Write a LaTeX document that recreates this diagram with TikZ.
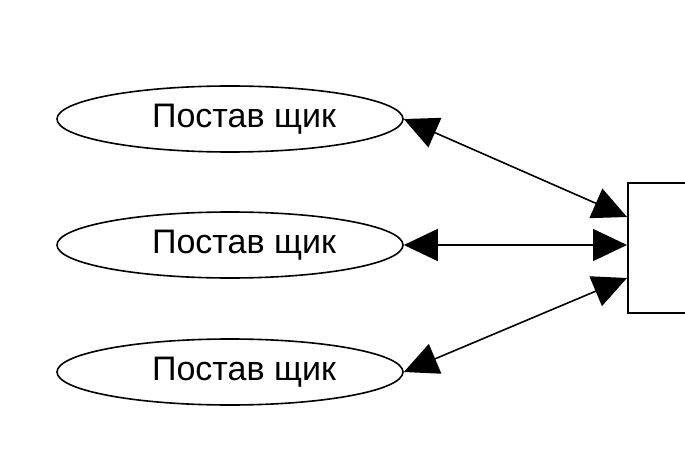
\documentclass[tikz,border=0pt]{standalone}
\usepackage{fontspec}
\setmainfont{Liberation Sans}
\usetikzlibrary{arrows.meta,shapes.geometric}
\begin{document}
\begin{tikzpicture}[x=1pt,y=1pt,
  supplier/.style={draw,line width=1.6pt,ellipse,minimum width=346pt,minimum height=66pt,inner sep=0pt,font=\fontsize{34}{34}\selectfont},
  link/.style={line width=1.6pt,{Triangle[length=34pt,width=32pt]}-{Triangle[length=34pt,width=32pt]}}]
\useasboundingbox (0,0) rectangle (685,448);
\fill[white] (0,0) rectangle (685,448);
\node[supplier] (s1) at (230,329) {\hspace*{28pt}\raisebox{-2pt}{Постав щик}};
\node[supplier] (s2) at (230,203) {\hspace*{28pt}\raisebox{-2pt}{Постав щик}};
\node[supplier] (s3) at (230,76) {\hspace*{28pt}\raisebox{-2pt}{Постав щик}};
\node[draw,line width=1.6pt,minimum width=80pt,minimum height=130pt,anchor=north west,inner sep=0pt] (box) at (627,266) {};
\coordinate (b1) at (627,231);
\coordinate (b2) at (627,203);
\coordinate (b3) at (627,170);
\draw[link] (s1.east) -- (b1);
\draw[link] (s2.east) -- (b2);
\draw[link] (s3.east) -- (b3);
\end{tikzpicture}
\end{document}
